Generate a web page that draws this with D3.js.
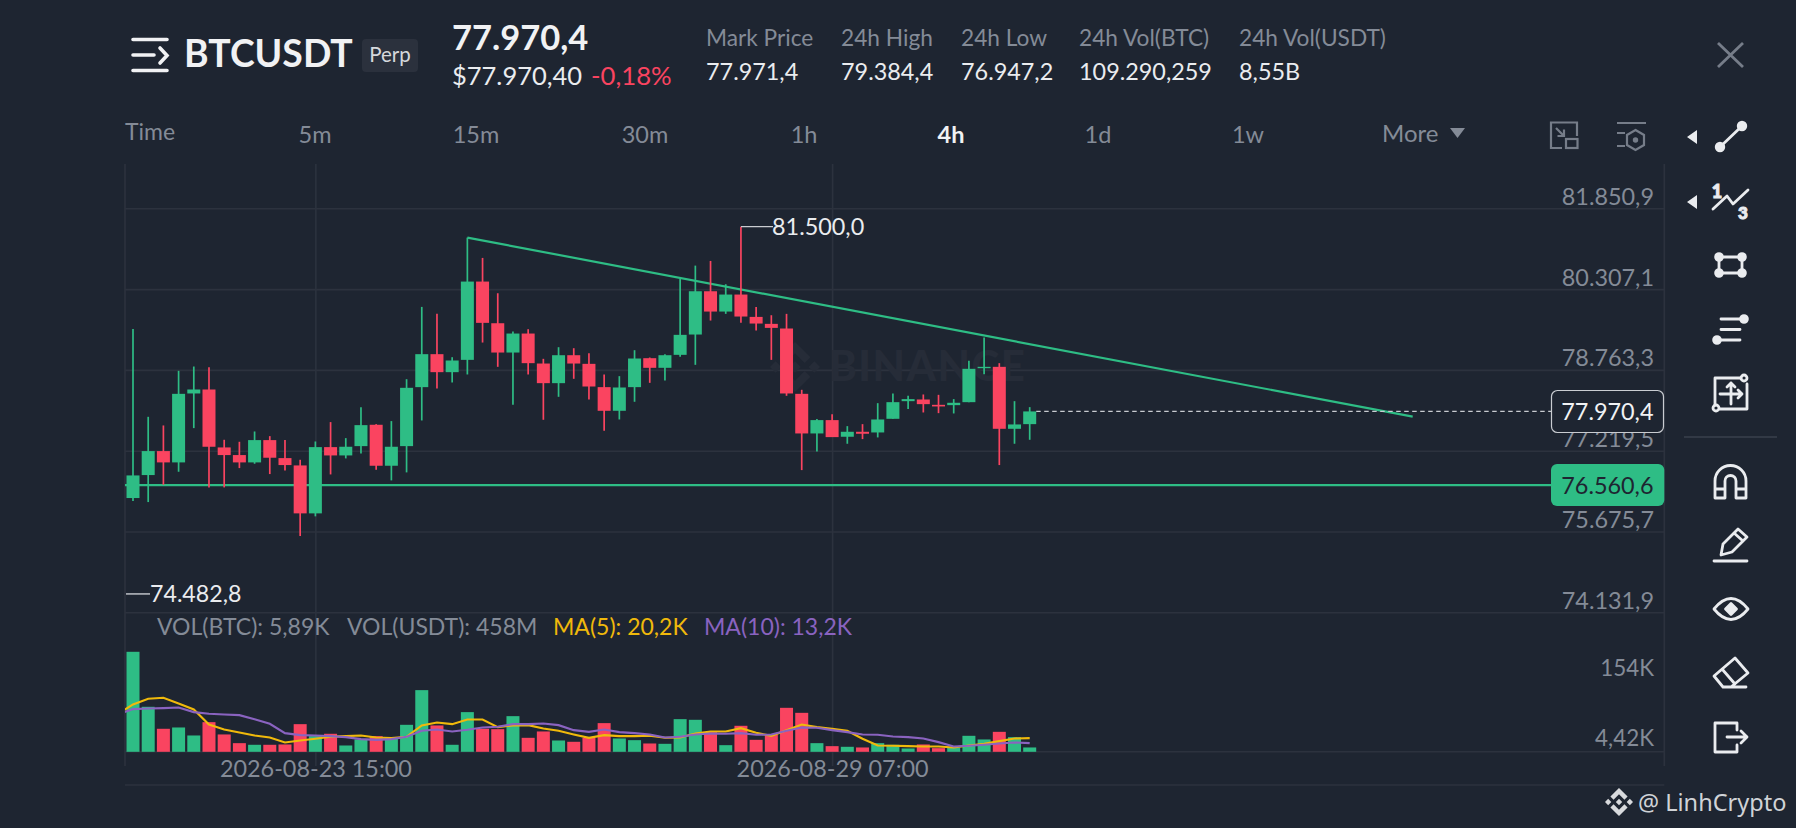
<!DOCTYPE html>
<html lang="en">
  <head>
    <meta charset="utf-8">
    <title>BTCUSDT Perp | 4h</title>
    <script type="text/javascript" src="https://d3js.org/d3.v7.min.js"></script>
    <style>
      html, body {
        margin: 0;
        padding: 0;
        background: #1e2531;
        overflow: hidden;
      }
      text {
        font-family: 'Lato', sans-serif;
      }
      .grid line,
      .grid path {
        stroke: #2c323e;
        stroke-width: 1.6;
      }
      .grid .domain {
        display: none;
      }
      .axis-label {
        fill: #848b97;
        font-size: 23px;
      }
      .grid text {
        fill: #848b97;
        stroke: none;
        font-size: 23.4px;
      }
      .volume-axis text {
        font-size: 22.4px;
      }
      .head-label {
        fill: #848b97;
        font-size: 22.7px;
      }
      .head-value {
        fill: #eaecef;
        font-size: 23.4px;
      }
      .tool {
        fill: none;
        stroke: #eaecef;
        stroke-width: 2.8;
        stroke-linecap: round;
        stroke-linejoin: round;
      }
      .tool-gray {
        fill: none;
        stroke: #767d89;
        stroke-width: 2.2;
      }
    </style>
  </head>
  <body>
    <div id="chart"></div>

    <script type="text/javascript">

      // candles, oldest first (4h bars)
      var opens = [76315,76754,77212,76996,78313,78389,77282,77136,76996,77422,77078,76938,76022,77288,77129,77307,77715,76932,77307,78434,
                   79064,78720,78955,80451,79655,79095,79458,78885,78510,79044,78879,78434,77982,78434,78987,78803,79051,79439,80266,79878,
                   80203,79776,79643,79554,78306,77549,77804,77486,77581,77568,77829,78166,78198,78096,78090,78147,78796,78822,77638,77727];
      var highs = [79547,77867,77702,78746,78828,78815,77428,77390,77587,77498,77422,77046,77396,77766,77460,78052,77727,77785,78586,79967,
                   79834,79006,81291,80903,80228,79496,79541,78975,79197,79178,79083,78676,78644,79140,79000,79064,80502,80756,80845,80400,
                   81500,79967,79808,79834,78383,77823,77918,77689,77727,78128,78313,78268,78294,78287,78205,78936,79382,78892,78166,78052];
      var lows = [76257,76238,76569,76817,77651,76518,76518,76887,76970,76773,76843,75589,75965,76766,77072,77167,76855,76652,76805,77797,
                  78408,78523,78676,79286,78822,78096,78676,77810,78249,78593,78198,77600,77816,78154,78516,78561,79013,78860,79706,79834,
                  79662,79515,78955,78268,76849,77206,77479,77352,77441,77473,77829,78014,77950,77937,77931,78147,78682,76945,77352,77428];
      var closes = [76747,77212,76996,78306,78389,77295,77136,76996,77422,77085,76945,76022,77288,77129,77295,77708,76932,77295,78421,79064,
                    78720,78943,80451,79662,79095,79458,78892,78510,79044,78885,78446,77982,78427,78981,78803,79044,79433,80266,79878,80203,
                    79783,79649,79566,78313,77549,77804,77479,77581,77543,77816,78147,78205,78109,78065,78135,78784,78822,77638,77721,77970];

      // volume in thousands of BTC
      var volumes = [218.1,100.6,53.6,56.4,39.3,67.8,41.5,22.9,19.4,19.4,20.1,63.5,37.9,42.9,17.9,30.8,37.9,32.9,62.1,136.2,
                     60.7,19.4,89.2,53.6,52.8,80.6,34.3,47.9,28.6,25.8,34.3,65.7,32.9,29.3,22.2,21.5,74.2,72.8,46.4,18.6,
                     60,30,41.5,98.4,87.7,22.9,16.5,15.1,13.7,22.9,19.4,11.5,20.1,12.2,13.7,38.6,30.8,47.1,35.7,13.7];

      // moving averages, first value belongs to the bar just left of the chart
      var ma5 = [84.9,105.6,117.7,119.8,107.7,94.9,62.8,52.1,45.7,39.3,35,24.3,28.6,32.2,36.5,37.9,39.3,35,33.6,36.5,
                 60.7,67.1,63.5,73.5,73.5,57.1,60.7,61.4,54.3,49.3,41.5,34.3,40,37.9,37.9,38.6,34.3,35,43.6,47.9,
                 47.9,55,45,38.6,50.7,62.8,57.1,53.6,49.3,32.2,17.9,17.2,16.5,15.8,15.8,13.7,17.9,21.5,27.2,32.9,33.6];
      var ma10 = [84.2,95.6,97,97.7,99.1,89.2,85.6,84.2,82.8,74.2,64.2,44.3,40,39.3,37.9,35.7,31.5,30,31.5,36.5,
                  49.3,52.1,47.9,51.4,56.4,57.8,63.5,63.5,64.9,61.4,50.7,47.1,52.1,46.4,44.3,41.5,35,36.5,41.5,43.6,
                  42.9,44.3,40.7,41.5,49.3,56.4,55.7,50.7,46.4,41.5,40.7,37.2,35.7,32.9,25.1,15.8,17.2,19.4,22.2,24.3,22.9];

      var priceTicks = [81850.9, 80307.1, 78763.3, 77219.5, 75675.7, 74131.9];
      var volumeTicks = [154, 4.42];
      var volumeTickLabels = ['154K', '4,42K'];
      var timeTicks = [12, 46];
      var timeTickLabels = ['2026-08-23 15:00', '2026-08-29 07:00'];

      var lastPrice = 77970.4;
      var supportPrice = 76560.6;
      var highMark = 81500.0;
      var lowMark = 74482.8;
      var highIndex = 40;
      var trendStart = [22, 81291]; // drawn trend line, bar index and price
      var trendEnd = [84.2, 77870];

      var headerLabels = ['Mark Price', '24h High', '24h Low', '24h Vol(BTC)', '24h Vol(USDT)'];
      var headerValues = ['77.971,4', '79.384,4', '76.947,2', '109.290,259', '8,55B'];
      var periods = ['5m', '15m', '30m', '1h', '4h', '1d', '1w'];

      var w = 1796;
      var h = 828;
      var plotLeft = 125;
      var plotRight = 1664.3;
      var green = '#2ebd85';
      var red = '#fa4460';
      var bodyWidth = 13;

      var svg = d3.select('#chart')
        .append('svg')
          .attr('width', w)
          .attr('height', h)
          .style('display', 'block')
          .style('background', '#1e2531');

      var x = d3.scaleLinear().domain([0, 59]).range([133, 1029.7]);
      var yPrice = d3.scaleLinear().domain([74131.9, 81850.9]).range([612.3, 208.3]);
      var yVolume = d3.scaleLinear().domain([4.42, 154]).range([751.8, 681.8]);

      // locale of the original: 81.850,9
      var priceFormat = d3.formatLocale({ decimal: ',', thousands: '.', grouping: [3], currency: ['$', ''] }).format(',.1f');

      function binanceLogo(parent, cx, cy, size, fill) {
        var k = size / 126.61;
        parent.append('path')
          .attr('transform', 'translate(' + (cx - size / 2) + ',' + (cy - size / 2) + ') scale(' + k + ')')
          .attr('fill', fill)
          .attr('d', 'M38.73 53.2L63.3 28.63l24.59 24.59 14.3-14.3L63.3 0 24.43 38.9z' +
                     'M0 63.3l14.3-14.3 14.3 14.3-14.3 14.3z' +
                     'M38.73 73.41L63.3 97.98l24.59-24.59 14.31 14.29L63.3 126.61 24.43 87.72z' +
                     'M98.01 63.31l14.3-14.3 14.3 14.3-14.3 14.3z' +
                     'M77.83 63.3L63.3 48.78 52.58 59.5l-1.24 1.24-2.54 2.54 14.5 14.53 14.53-14.51z');
      }

      // header ---------------------------------------------------------------
      var header = svg.append('g');

      header.append('path')
        .attr('d', 'M133 39.5H167 M133 55H154 M133 70.5H167 M160 48L167 55.5L160 63')
        .attr('fill', 'none')
        .attr('stroke', '#f1f2f4')
        .attr('stroke-width', 3.6)
        .attr('stroke-linecap', 'round');

      header.append('text')
        .attr('x', 184).attr('y', 67)
        .attr('fill', '#f1f2f4')
        .style('font-size', '37.4px')
        .style('font-weight', 700)
        .text('BTCUSDT');

      header.append('rect')
        .attr('x', 362).attr('y', 39)
        .attr('width', 56).attr('height', 33)
        .attr('rx', 4)
        .attr('fill', '#2b313d');

      header.append('text')
        .attr('x', 390).attr('y', 62)
        .attr('text-anchor', 'middle')
        .attr('fill', '#d5d8dc')
        .style('font-size', '20.5px')
        .text('Perp');

      header.append('text')
        .attr('x', 452).attr('y', 50)
        .attr('fill', '#f1f2f4')
        .style('font-size', '34.5px')
        .style('font-weight', 700)
        .text(priceFormat(lastPrice));

      header.append('text')
        .attr('x', 452).attr('y', 85)
        .attr('fill', '#eaecef')
        .style('font-size', '25.5px')
        .text('$77.970,40');

      header.append('text')
        .attr('x', 591).attr('y', 85)
        .attr('fill', red)
        .style('font-size', '25.7px')
        .text('-0,18%');

      var headerLeft = [706, 841, 961, 1079, 1239];

      header.selectAll('.head-label')
        .data(headerLabels)
        .enter()
        .append('text')
          .attr('class', 'head-label')
          .attr('x', function(d, i) { return headerLeft[i]; })
          .attr('y', 46)
          .text(function(d) { return d; });

      header.selectAll('.head-value')
        .data(headerValues)
        .enter()
        .append('text')
          .attr('class', 'head-value')
          .attr('x', function(d, i) { return headerLeft[i]; })
          .attr('y', 80)
          .text(function(d) { return d; });

      // close cross
      header.append('path')
        .attr('d', 'M1718 43L1743 67 M1743 43L1718 67')
        .attr('stroke', '#767d89')
        .attr('stroke-width', 2.8)
        .attr('fill', 'none');

      // period row
      var periodRow = svg.append('g');
      var periodCenter = [315, 476, 645, 804, 951, 1098, 1248];

      periodRow.append('text')
        .attr('x', 125).attr('y', 140)
        .attr('fill', '#848b97')
        .style('font-size', '23px')
        .text('Time');

      periodRow.selectAll('.period')
        .data(periods)
        .enter()
        .append('text')
          .attr('class', 'period')
          .attr('x', function(d, i) { return periodCenter[i]; })
          .attr('y', 143)
          .attr('text-anchor', 'middle')
          .attr('fill', function(d) { return d == '4h' ? '#f1f2f4' : '#848b97'; })
          .style('font-size', '23.5px')
          .style('font-weight', function(d) { return d == '4h' ? 700 : 400; })
          .text(function(d) { return d; });

      periodRow.append('text')
        .attr('x', 1382).attr('y', 142)
        .attr('fill', '#848b97')
        .style('font-size', '24px')
        .text('More');

      periodRow.append('path')
        .attr('d', 'M1450 128H1465L1457.5 138Z')
        .attr('fill', '#848b97');

      periodRow.append('g')
        .attr('class', 'tool-gray')
        .html('<path d="M1562 148H1551V122.5H1577V136"/><rect x="1566" y="139" width="11.5" height="9"/>' +
              '<path d="M1556 128L1564 136M1564 129.5V136H1557.5"/>' +
              '<path d="M1617 123H1646M1617 133H1625M1617 146H1625"/>' +
              '<path d="M1635.5 130L1644 135V145L1635.5 150L1627 145V135Z"/>' +
              '<circle cx="1635.5" cy="140" r="1.6" fill="#767d89"/>');

      // grid -----------------------------------------------------------------
      var priceAxis = d3.axisRight(yPrice)
        .tickValues(priceTicks)
        .tickSize(plotRight - plotLeft)
        .tickFormat(priceFormat);

      var priceAxisG = svg.append('g')
        .attr('class', 'grid')
        .attr('transform', 'translate(' + plotLeft + ',0)')
        .call(priceAxis);

      priceAxisG.selectAll('text')
        .attr('x', 1654 - plotLeft)
        .attr('y', -4)
        .attr('dy', 0)
        .attr('text-anchor', 'end');

      var timeAxis = d3.axisBottom(x)
        .tickValues(timeTicks)
        .tickSize(-602)
        .tickFormat(function(d, i) { return timeTickLabels[i]; });

      var timeAxisG = svg.append('g')
        .attr('class', 'grid')
        .attr('transform', 'translate(0,766)')
        .call(timeAxis);

      timeAxisG.selectAll('text')
        .attr('y', 11)
        .attr('dy', 0);

      var frame = svg.append('g').attr('class', 'grid');

      frame.append('line') // left edge
        .attr('x1', plotLeft).attr('x2', plotLeft)
        .attr('y1', 164).attr('y2', 766);

      frame.append('line') // right edge
        .attr('x1', plotRight).attr('x2', plotRight)
        .attr('y1', 164).attr('y2', 766);

      frame.append('line') // volume baseline
        .attr('x1', plotLeft).attr('x2', plotRight)
        .attr('y1', yVolume(4.42)).attr('y2', yVolume(4.42));

      frame.append('line') // bottom of the time scale
        .attr('x1', plotLeft).attr('x2', plotRight)
        .attr('y1', 785).attr('y2', 785);

      var volumeAxis = d3.axisRight(yVolume)
        .tickValues(volumeTicks)
        .tickSize(0)
        .tickFormat(function(d, i) { return volumeTickLabels[i]; });

      var volumeAxisG = svg.append('g')
        .attr('class', 'grid volume-axis')
        .attr('transform', 'translate(' + plotLeft + ',0)')
        .call(volumeAxis);

      volumeAxisG.selectAll('text')
        .attr('x', 1654 - plotLeft)
        .attr('y', -6.5)
        .attr('dy', 0)
        .attr('text-anchor', 'end');

      // watermark under the candles
      binanceLogo(svg, 795, 367, 50, '#262c38');

      svg.append('text')
        .attr('x', 829).attr('y', 381)
        .attr('fill', '#262c38')
        .style('font-size', '42px')
        .style('font-weight', 900)
        .style('letter-spacing', '1.5px')
        .text('BINANCE');

      // drawn lines ----------------------------------------------------------
      var drawn = svg.append('g');

      drawn.append('line')
        .attr('x1', x(trendStart[0])).attr('y1', yPrice(trendStart[1]))
        .attr('x2', x(trendEnd[0])).attr('y2', yPrice(trendEnd[1]))
        .attr('stroke', green)
        .attr('stroke-width', 2.2);

      drawn.append('line')
        .attr('x1', plotLeft).attr('x2', 1552)
        .attr('y1', yPrice(supportPrice)).attr('y2', yPrice(supportPrice))
        .attr('stroke', green)
        .attr('stroke-width', 2.2);

      drawn.append('line')
        .attr('x1', x(opens.length - 1) + bodyWidth / 2).attr('x2', 1552)
        .attr('y1', yPrice(lastPrice)).attr('y2', yPrice(lastPrice))
        .attr('stroke', '#c9ccd1')
        .attr('stroke-width', 1.2)
        .attr('stroke-dasharray', '4.5 3.5');

      // candles --------------------------------------------------------------
      var candleData = opens.map(function(d, i) {
        return { i: i, open: d, high: highs[i], low: lows[i], close: closes[i] };
      });

      function candleColor(d) {
        return d.close >= d.open ? green : red;
      }

      var candles = svg.append('g').attr('id', 'candles');

      candles.selectAll('.wick')
        .data(candleData)
        .enter()
        .append('line')
          .attr('class', 'wick')
          .attr('x1', function(d) { return x(d.i); })
          .attr('x2', function(d) { return x(d.i); })
          .attr('y1', function(d) { return yPrice(d.high); })
          .attr('y2', function(d) { return yPrice(d.low); })
          .attr('stroke', candleColor)
          .attr('stroke-width', 1.7);

      candles.selectAll('.body')
        .data(candleData)
        .enter()
        .append('rect')
          .attr('class', 'body')
          .attr('x', function(d) { return x(d.i) - bodyWidth / 2; })
          .attr('y', function(d) { return yPrice(Math.max(d.open, d.close)); })
          .attr('width', bodyWidth)
          .attr('height', function(d) { return Math.abs(yPrice(d.open) - yPrice(d.close)); })
          .attr('fill', candleColor);

      // volume ---------------------------------------------------------------
      svg.append('defs')
        .append('clipPath')
          .attr('id', 'plot-clip')
        .append('rect')
          .attr('x', plotLeft).attr('y', 612)
          .attr('width', plotRight - plotLeft).attr('height', 154);

      var volumeG = svg.append('g').attr('clip-path', 'url(#plot-clip)');

      volumeG.selectAll('.vol')
        .data(volumes)
        .enter()
        .append('rect')
          .attr('class', 'vol')
          .attr('x', function(d, i) { return x(i) - bodyWidth / 2; })
          .attr('y', function(d) { return yVolume(d); })
          .attr('width', bodyWidth)
          .attr('height', function(d) { return yVolume(4.42) - yVolume(d); })
          .attr('fill', function(d, i) { return closes[i] >= opens[i] ? green : red; });

      var maLine = d3.line()
        .x(function(d, i) { return x(i - 1); })
        .y(function(d) { return yVolume(d); });

      volumeG.append('path')
        .attr('d', maLine(ma5))
        .attr('fill', 'none')
        .attr('stroke', '#f0b90b')
        .attr('stroke-width', 2.1);

      volumeG.append('path')
        .attr('d', maLine(ma10))
        .attr('fill', 'none')
        .attr('stroke', '#8a63c0')
        .attr('stroke-width', 2.1);

      // indicator row
      svg.append('text').attr('class', 'axis-label').attr('x', 157).attr('y', 635).text('VOL(BTC): 5,89K');
      svg.append('text').attr('class', 'axis-label').attr('x', 347).attr('y', 635).text('VOL(USDT): 458M');
      svg.append('text').attr('class', 'axis-label').attr('x', 553).attr('y', 635).style('fill', '#f0b90b').text('MA(5): 20,2K');
      svg.append('text').attr('class', 'axis-label').attr('x', 704).attr('y', 635).style('fill', '#8a63c0').text('MA(10): 13,2K');

      // high and low marks
      svg.append('line')
        .attr('x1', x(highIndex)).attr('x2', 773)
        .attr('y1', yPrice(highMark)).attr('y2', yPrice(highMark))
        .attr('stroke', '#c9ccd1')
        .attr('stroke-width', 1.4);

      svg.append('text')
        .attr('x', 772).attr('y', yPrice(highMark) + 8)
        .attr('fill', '#eaecef')
        .style('font-size', '23.4px')
        .text(priceFormat(highMark));

      svg.append('line')
        .attr('x1', 126).attr('x2', 150)
        .attr('y1', yPrice(lowMark)).attr('y2', yPrice(lowMark))
        .attr('stroke', '#c9ccd1')
        .attr('stroke-width', 1.4);

      svg.append('text')
        .attr('x', 150).attr('y', yPrice(lowMark) + 8)
        .attr('fill', '#eaecef')
        .style('font-size', '23.2px')
        .text(priceFormat(lowMark));

      // price tags
      svg.append('rect')
        .attr('x', 1551.5).attr('y', 390.5)
        .attr('width', 112).attr('height', 42)
        .attr('rx', 6)
        .attr('fill', '#1e2531')
        .attr('stroke', '#c9ccd1')
        .attr('stroke-width', 1.2);

      svg.append('text')
        .attr('x', 1653.5).attr('y', 420)
        .attr('text-anchor', 'end')
        .attr('fill', '#f1f2f4')
        .style('font-size', '23.4px')
        .text(priceFormat(lastPrice));

      svg.append('rect')
        .attr('x', 1551).attr('y', 464)
        .attr('width', 113.3).attr('height', 42)
        .attr('rx', 6)
        .attr('fill', green);

      svg.append('text')
        .attr('x', 1653.5).attr('y', 493.5)
        .attr('text-anchor', 'end')
        .attr('fill', '#1e2531')
        .style('font-size', '23.4px')
        .text(priceFormat(supportPrice));

      // toolbar on the right
      var tools = svg.append('g');

      tools.append('path')
        .attr('d', 'M1697 130V144L1687 137Z M1697 195V209L1687 202Z')
        .attr('fill', '#eaecef');

      tools.append('g')
        .attr('class', 'tool')
        .html('<path d="M1720 147L1742 126"/><circle cx="1720" cy="147" r="3.8" fill="#eaecef"/><circle cx="1742" cy="126" r="3.8" fill="#eaecef"/>' +
              '<path d="M1713 209L1727 196L1733 204L1748 190"/>' +
              '<path d="M1719 257H1742M1719 273H1742M1719 257V273M1742 257V273"/>' +
              '<circle cx="1719" cy="257" r="3.4" fill="#eaecef"/><circle cx="1742" cy="257" r="3.4" fill="#eaecef"/><circle cx="1719" cy="273" r="3.4" fill="#eaecef"/><circle cx="1742" cy="273" r="3.4" fill="#eaecef"/>' +
              '<path d="M1721 319H1743M1721 329.5H1740M1717 340H1740"/>' +
              '<circle cx="1744" cy="319" r="3.4" fill="#eaecef"/><circle cx="1717" cy="340" r="3.4" fill="#eaecef"/>' +
              '<path d="M1741 378H1715V405M1720 409H1747V384"/><circle cx="1744" cy="378" r="3"/><circle cx="1716" cy="408" r="3"/>' +
              '<path d="M1731 383V404M1720 394H1742M1727 387L1731 383L1735 387M1738 390L1742 394L1738 398"/>');

      tools.append('text')
        .attr('x', 1717).attr('y', 198)
        .attr('text-anchor', 'middle')
        .attr('fill', '#eaecef')
        .attr('stroke', '#eaecef')
        .attr('stroke-width', 1)
        .style('font-size', '18px')
        .style('font-weight', 900)
        .text('1');

      tools.append('text')
        .attr('x', 1743).attr('y', 219)
        .attr('text-anchor', 'middle')
        .attr('fill', '#eaecef')
        .attr('stroke', '#eaecef')
        .attr('stroke-width', 1)
        .style('font-size', '17px')
        .style('font-weight', 900)
        .text('3');

      tools.append('line')
        .attr('x1', 1684).attr('x2', 1777)
        .attr('y1', 437).attr('y2', 437)
        .attr('stroke', '#3a404c')
        .attr('stroke-width', 1.6);

      tools.append('g')
        .attr('class', 'tool')
        .html('<path d="M1715 498V481A15.5 15.5 0 0 1 1746 481V498H1736V481A5.5 5.5 0 0 0 1725 481V498Z M1715 489H1725M1736 489H1746"/>' +
              '<path d="M1714 561H1747M1721 555L1723 544L1738 529L1747 537L1732 552Z M1734 533L1743 541"/>' +
              '<path d="M1714 609Q1731 588 1748 609Q1731 630 1714 609Z"/>' +
              '<path d="M1731 603.5L1736.5 609L1731 614.5L1725.5 609Z" fill="#eaecef"/>' +
              '<path d="M1714 676L1735 658L1748 673L1731 687H1723Z M1722 669L1735 684 M1731 687H1746"/>' +
              '<path d="M1737 730V723H1715V752H1737V745M1727 737H1747M1741 731L1747 737L1741 743"/>');

      // author mark
      binanceLogo(svg, 1619, 802, 28, '#d8dadd');

      svg.append('text')
        .attr('x', 1638).attr('y', 811)
        .attr('fill', '#d0d3d7')
        .style('font-family', "'Noto Sans', sans-serif")
        .style('font-size', '23.5px')
        .text('@ LinhCrypto');

    </script>
  </body>
</html>
